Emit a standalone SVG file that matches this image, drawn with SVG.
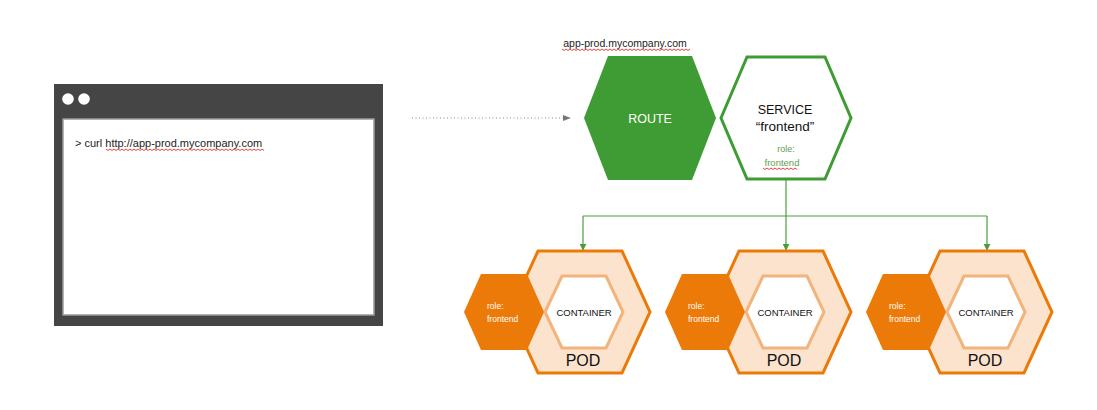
<svg xmlns="http://www.w3.org/2000/svg" width="1097" height="410" viewBox="0 0 1097 410">
<defs>
<style>
.t{font-family:"Liberation Sans",Arial,sans-serif}
.pod{fill:#fbe3cd;stroke:#ec7a08;stroke-width:3;stroke-linejoin:miter}
.cont{fill:#ffffff;stroke:#f2b47c;stroke-width:3}
.role{fill:#ec7a08}
.conn{fill:none;stroke:#4a9d3f;stroke-width:1.2}
.sq{fill:none;stroke:#e0302a;stroke-width:0.9}
</style>
<marker id="ag" viewBox="0 0 10 10" refX="9" refY="5" markerWidth="7" markerHeight="7" markerUnits="userSpaceOnUse" orient="auto"><path d="M0,0 L10,5 L0,10 z" fill="#4a9d3f"/></marker>
<marker id="ay" viewBox="0 0 10 10" refX="9" refY="5" markerWidth="8" markerHeight="8" markerUnits="userSpaceOnUse" orient="auto"><path d="M0,1 L10,5 L0,9 z" fill="#777777"/></marker>
</defs>
<rect width="1097" height="410" fill="#ffffff"/>

<g id="browser">
<rect x="54" y="84" width="329" height="242" fill="#454545"/>
<rect x="63" y="119" width="311" height="196" fill="#ffffff" stroke="#9a9a9a" stroke-width="1.5"/>
<circle cx="68" cy="99" r="5.8" fill="#ffffff"/>
<circle cx="84" cy="99" r="5.8" fill="#ffffff"/>
<text class="t" x="75" y="147" font-size="11" fill="#222">&gt; curl http://app-prod.mycompany.com</text>
</g>

<g id="route">
<text class="t" x="625" y="47" font-size="10.5" fill="#222" text-anchor="middle">app-prod.mycompany.com</text>
<polygon points="584,118 608,56 692,56 716,118 692,180 608,180" fill="#3f9c35"/>
<text class="t" x="650" y="123" font-size="12.5" fill="#ffffff" text-anchor="middle">ROUTE</text>
</g>

<g id="service">
<polygon points="721,118 747,57 825,57 851,118 825,179 747,179" fill="#ffffff" stroke="#3f9c35" stroke-width="3"/>
<text class="t" x="785" y="114" font-size="12.5" fill="#111" text-anchor="middle">SERVICE</text>
<text class="t" x="785" y="131" font-size="13.5" fill="#111" text-anchor="middle">“frontend”</text>
<text class="t" x="786" y="152" font-size="9" fill="#5e9e50" text-anchor="middle">role:</text>
<text class="t" x="782" y="166" font-size="9.5" fill="#5e9e50" text-anchor="middle">frontend</text>
</g>

<g id="connectors">
<path class="conn" d="M786,180 V250" marker-end="url(#ag)"/>
<path class="conn" d="M583,216 H987"/>
<path class="conn" d="M583,216 V250" marker-end="url(#ag)"/>
<path class="conn" d="M987,216 V250" marker-end="url(#ag)"/>
<path d="M412,118 H570" fill="none" stroke="#888" stroke-width="1" stroke-dasharray="1,2.5" marker-end="url(#ay)"/>
</g>

<g id="pod1" transform="translate(580,312)">
<polygon class="pod" points="-70,0 -42,-61 42,-61 70,0 42,61 -42,61"/>
<polygon class="cont" points="-35,0 -18,-36 26,-36 43,0 26,36 -18,36"/>
<polygon class="role" points="-116,0 -99,-38 -53,-38 -36,0 -53,38 -99,38"/>
<text class="t" x="4" y="4" font-size="9.5" fill="#111" text-anchor="middle">CONTAINER</text>
<text class="t" x="3" y="54" font-size="16" fill="#111" text-anchor="middle">POD</text>
<text class="t" x="-93" y="-3" font-size="8.5" fill="#ffffff">role:</text>
<text class="t" x="-93" y="10" font-size="8.5" fill="#ffffff">frontend</text>
</g>

<g id="pod2" transform="translate(781,312)">
<polygon class="pod" points="-70,0 -42,-61 42,-61 70,0 42,61 -42,61"/>
<polygon class="cont" points="-35,0 -18,-36 26,-36 43,0 26,36 -18,36"/>
<polygon class="role" points="-116,0 -99,-38 -53,-38 -36,0 -53,38 -99,38"/>
<text class="t" x="4" y="4" font-size="9.5" fill="#111" text-anchor="middle">CONTAINER</text>
<text class="t" x="3" y="54" font-size="16" fill="#111" text-anchor="middle">POD</text>
<text class="t" x="-93" y="-3" font-size="8.5" fill="#ffffff">role:</text>
<text class="t" x="-93" y="10" font-size="8.5" fill="#ffffff">frontend</text>
</g>

<g id="pod3" transform="translate(982,312)">
<polygon class="pod" points="-70,0 -42,-61 42,-61 70,0 42,61 -42,61"/>
<polygon class="cont" points="-35,0 -18,-36 26,-36 43,0 26,36 -18,36"/>
<polygon class="role" points="-116,0 -99,-38 -53,-38 -36,0 -53,38 -99,38"/>
<text class="t" x="4" y="4" font-size="9.5" fill="#111" text-anchor="middle">CONTAINER</text>
<text class="t" x="3" y="54" font-size="16" fill="#111" text-anchor="middle">POD</text>
<text class="t" x="-93" y="-3" font-size="8.5" fill="#ffffff">role:</text>
<text class="t" x="-93" y="10" font-size="8.5" fill="#ffffff">frontend</text>
</g>

<g id="spellcheck">
<path class="sq" d="M106,149 l2,1.5 l2,-1.5 l2,1.5 l2,-1.5 l2,1.5 l2,-1.5 l2,1.5 l2,-1.5 l2,1.5 l2,-1.5 l2,1.5 l2,-1.5 l2,1.5 l2,-1.5 l2,1.5 l2,-1.5 l2,1.5 l2,-1.5 l2,1.5 l2,-1.5 l2,1.5 l2,-1.5 l2,1.5 l2,-1.5 l2,1.5 l2,-1.5 l2,1.5 l2,-1.5 l2,1.5 l2,-1.5 l2,1.5 l2,-1.5 l2,1.5 l2,-1.5 l2,1.5 l2,-1.5 l2,1.5 l2,-1.5 l2,1.5 l2,-1.5 l2,1.5 l2,-1.5 l2,1.5 l2,-1.5 l2,1.5 l2,-1.5 l2,1.5 l2,-1.5 l2,1.5 l2,-1.5 l2,1.5 l2,-1.5 l2,1.5 l2,-1.5 l2,1.5 l2,-1.5 l2,1.5 l2,-1.5 l2,1.5 l2,-1.5 l2,1.5 l2,-1.5 l2,1.5 l2,-1.5 l2,1.5 l2,-1.5 l2,1.5 l2,-1.5 l2,1.5 l2,-1.5 l2,1.5 l2,-1.5 l2,1.5 l2,-1.5 l2,1.5 l2,-1.5 l2,1.5 l2,-1.5 l2,1.5"/>
<path class="sq" d="M562,49 l2,1.5 l2,-1.5 l2,1.5 l2,-1.5 l2,1.5 l2,-1.5 l2,1.5 l2,-1.5 l2,1.5 l2,-1.5 l2,1.5 l2,-1.5 l2,1.5 l2,-1.5 l2,1.5 l2,-1.5 l2,1.5 l2,-1.5 l2,1.5 l2,-1.5 l2,1.5 l2,-1.5 l2,1.5 l2,-1.5 l2,1.5 l2,-1.5 l2,1.5 l2,-1.5 l2,1.5 l2,-1.5 l2,1.5 l2,-1.5 l2,1.5 l2,-1.5 l2,1.5 l2,-1.5 l2,1.5 l2,-1.5 l2,1.5 l2,-1.5 l2,1.5 l2,-1.5 l2,1.5 l2,-1.5 l2,1.5 l2,-1.5 l2,1.5 l2,-1.5 l2,1.5 l2,-1.5 l2,1.5 l2,-1.5 l2,1.5 l2,-1.5 l2,1.5 l2,-1.5 l2,1.5 l2,-1.5 l2,1.5 l2,-1.5 l2,1.5 l2,-1.5 l2,1.5 l2,-1.5"/>
<path class="sq" d="M763,168 l2,1.5 l2,-1.5 l2,1.5 l2,-1.5 l2,1.5 l2,-1.5 l2,1.5 l2,-1.5 l2,1.5 l2,-1.5 l2,1.5 l2,-1.5 l2,1.5 l2,-1.5 l2,1.5 l2,-1.5 l2,1.5"/>
</g>
</svg>
